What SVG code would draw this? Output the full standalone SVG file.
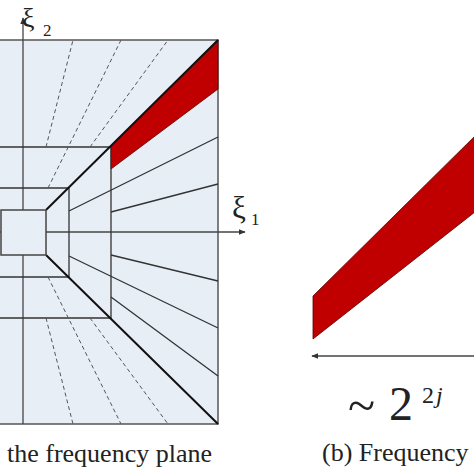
<svg xmlns="http://www.w3.org/2000/svg" width="474" height="474" viewBox="0 0 474 474">
<style>
.thin{stroke:#333;stroke-width:1.3;fill:none}
.diag{stroke:#111;stroke-width:2;fill:none}
.dash{stroke:#555;stroke-width:1;stroke-dasharray:4 3;fill:none}
.axis{stroke:#444;stroke-width:1.3;fill:none}
.txt{font-family:"Liberation Serif","Times New Roman",serif;fill:#222}
.red{fill:#c00000;stroke:#5a0000;stroke-width:0.8}
</style>
<defs>
<marker id="ah" viewBox="0 0 10 10" refX="9" refY="5" markerWidth="7" markerHeight="7" orient="auto-start-reverse" markerUnits="userSpaceOnUse">
<path d="M0,1 L10,5 L0,9 Z" fill="#333"/>
</marker>
</defs>
<rect width="474" height="474" fill="#fff"/>
<g id="tiling">
<rect x="-180" y="40" width="398" height="384" fill="#e8eef6" stroke="#555" stroke-width="1.5"/>
<polygon id="wedge-a" class="red" points="111,147 218,40 218,89 111,169"/>
</g>
<g id="connectors">
<line class="axis" x1="23" y1="424" x2="23" y2="18" marker-end="url(#ah)"/>
<line class="axis" x1="-5" y1="232" x2="245" y2="232" marker-end="url(#ah)"/>
<path class="thin" d="M-5,147 H111 V318 H-5"/>
<path class="thin" d="M-5,188 H69 V277 H-5"/>
<path class="diag" d="M46,210 L218,40 M46,255 L218,424"/>
<path class="thin" d="M69,211 L218,137 M111,212 L218,184 M69,256 L218,328 M111,255 L218,281 M111,297 L218,376"/>
<path class="dash" d="M46,147 L73,40 M48,188 L121,40 M90,147 L168,40 M-1,147 L-27,40"/>
<path class="dash" d="M46,318 L73,424 M48,277 L121,424 M90,318 L168,424 M-1,318 L-27,424"/>
<line class="axis" x1="474" y1="356" x2="312" y2="356" marker-end="url(#ah)"/>
</g>
<g id="center-square">
<rect x="1" y="210" width="45" height="45" fill="#e8eef6" stroke="#444" stroke-width="1.5"/>
</g>
<g id="labels">
<text class="txt" x="22" y="27" font-size="28">ξ</text>
<text class="txt" x="43" y="36" font-size="17">2</text>
<text class="txt" x="232" y="218" font-size="31">ξ</text>
<text class="txt" x="251" y="225" font-size="17">1</text>
<text class="txt" x="7" y="462" font-size="26">the frequency plane</text>
</g>
<g id="panel-b">
<polygon id="wedge-b" class="red" points="313,296 480,131 480,208 313,339"/>
<text class="txt" x="348" y="422" font-size="50" font-family="Liberation Serif, serif">~</text>
<text class="txt" x="389" y="420" font-size="48" font-family="Liberation Serif, serif">2</text>
<text class="txt" x="422" y="403" font-size="24" font-family="Liberation Serif, serif">2</text>
<text class="txt" x="436" y="403" font-size="24" font-style="italic" font-family="Liberation Serif, serif">j</text>
<text class="txt" x="322" y="461" font-size="26">(b) Frequency</text>
</g>
</svg>
